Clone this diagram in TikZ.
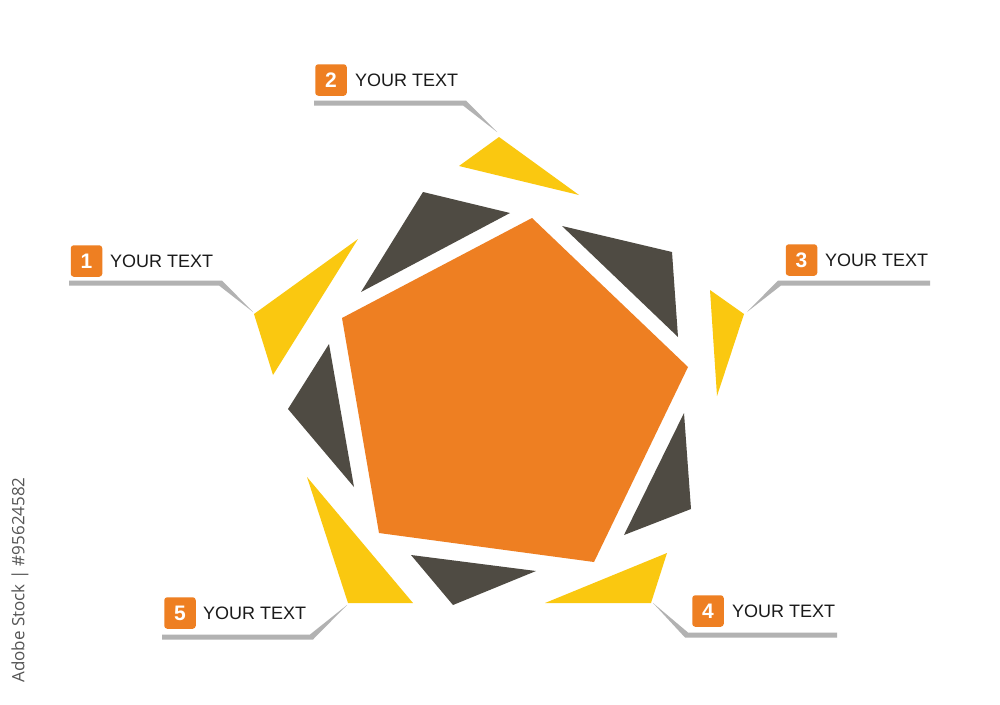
\documentclass[tikz,border=0pt]{standalone}
\usepackage{fontspec}
\setmainfont{Liberation Sans}
\newfontfamily\wmfont{Open Sans}
\definecolor{pentorange}{RGB}{238,127,34}
\definecolor{darkshard}{RGB}{79,75,67}
\definecolor{yellowshard}{RGB}{250,200,16}
\definecolor{leadergray}{RGB}{178,178,178}
\definecolor{labeltext}{RGB}{26,26,26}
\definecolor{wmgray}{RGB}{85,85,85}
\tikzset{
  pentagon/.style={fill=pentorange},
  dshard/.style={fill=darkshard},
  yshard/.style={fill=yellowshard},
  leader/.style={fill=leadergray},
  badge/.style={fill=pentorange, rounded corners=3pt, minimum size=31.5pt, inner sep=0pt,
    text=white, font=\bfseries\fontsize{21}{21}\selectfont},
  lbl/.style={anchor=west, inner sep=0pt, text=labeltext, font=\fontsize{18}{18}\selectfont},
}
\begin{document}
\begin{tikzpicture}[x=1pt,y=-1pt]
\useasboundingbox (0,0) rectangle (1000,704);
\fill[white] (0,0) rectangle (1000,704);
% central pentagon
\fill[pentagon] (532,218) -- (688,367) -- (594,562) -- (379,533) -- (342,318) -- cycle;
% dark shards
\fill[dshard] (423,192) -- (510,213) -- (361,292) -- cycle;
\fill[dshard] (562,226) -- (672,252) -- (678,337) -- cycle;
\fill[dshard] (684,413) -- (691,509) -- (624,535) -- cycle;
\fill[dshard] (411,555) -- (536,571) -- (453,605) -- cycle;
\fill[dshard] (329,344) -- (354,487) -- (288,409) -- cycle;
% yellow shards
\fill[yshard] (499,137) -- (579,195) -- (459,166) -- cycle;
\fill[yshard] (358,239) -- (254,314) -- (273,375) -- cycle;
\fill[yshard] (710,290) -- (744,314) -- (717,396) -- cycle;
\fill[yshard] (307,477) -- (413,603) -- (348,603) -- cycle;
\fill[yshard] (667,553) -- (651,603) -- (545,603) -- cycle;
% tip coordinates of the leaders
\coordinate (tip1) at (253,312);
\coordinate (tip2) at (497,132);
\coordinate (tip3) at (747,312);
\coordinate (tip4) at (653,603);
\coordinate (tip5) at (347,605);
% leaders
\fill[leader] (69,280.5) -- (222,280.5) -- (tip1) -- (219,285.5) -- (69,285.5) -- cycle;
\fill[leader] (314,100.5) -- (466,100.5) -- (tip2) -- (463,105.5) -- (314,105.5) -- cycle;
\fill[leader] (930,280.5) -- (778,280.5) -- (tip3) -- (781,285.5) -- (930,285.5) -- cycle;
\fill[leader] (837,637.5) -- (685,637.5) -- (tip4) -- (688,632.5) -- (837,632.5) -- cycle;
\fill[leader] (162,639.5) -- (313,639.5) -- (tip5) -- (310,634.5) -- (162,634.5) -- cycle;
% badges and labels
\node[badge] (b1) at (86.5,261) {1};
\node[lbl] (t1) at (110,261) {YOUR TEXT};
\node[badge] (b2) at (331,80) {2};
\node[lbl] (t2) at (355,80) {YOUR TEXT};
\node[badge] (b3) at (801.5,260) {3};
\node[lbl] (t3) at (825,260) {YOUR TEXT};
\node[badge] (b4) at (708,611) {4};
\node[lbl] (t4) at (732,611) {YOUR TEXT};
\node[badge] (b5) at (180,613) {5};
\node[lbl] (t5) at (203,613) {YOUR TEXT};
% vertical stock id
\node[rotate=90, inner sep=0pt, text=wmgray, font=\wmfont\fontsize{17}{17}\selectfont] (wm) at (20,580) {Adobe Stock | \#95624582};
\end{tikzpicture}
\end{document}
